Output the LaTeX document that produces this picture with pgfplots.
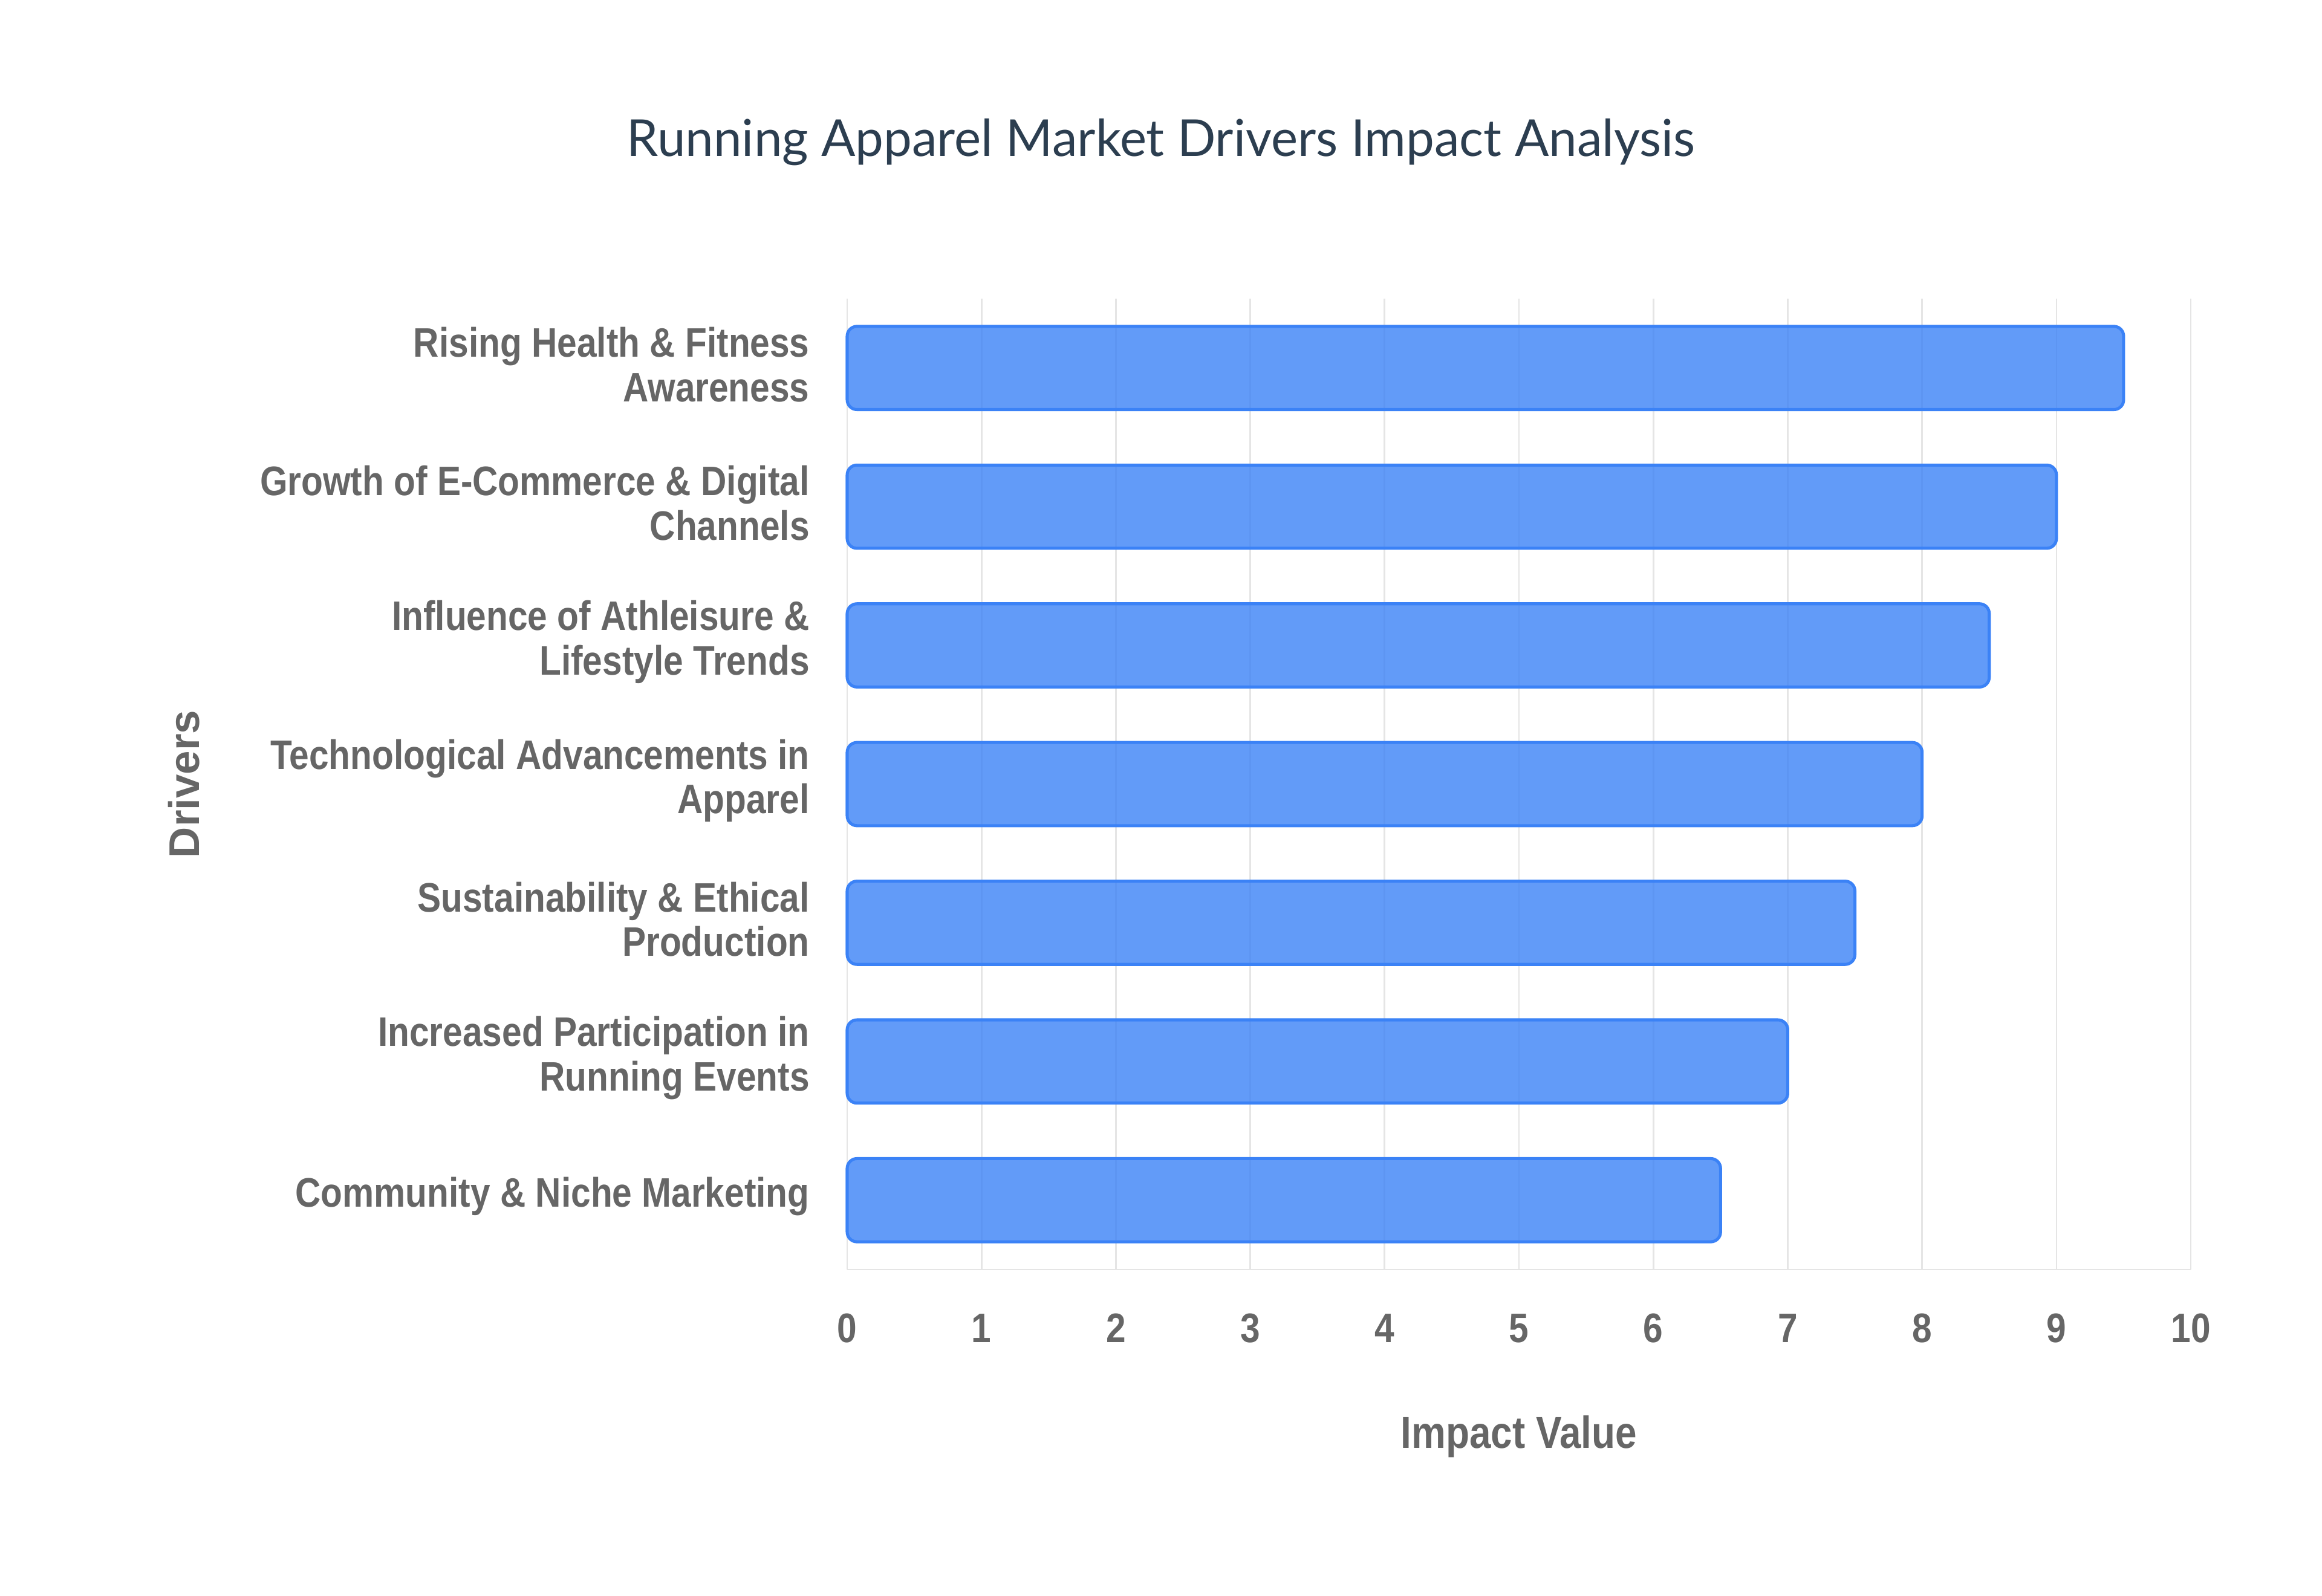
\documentclass[border=0pt]{standalone}
\usepackage{fontspec}
\setmainfont{Liberation Sans}
\newfontfamily\lblfont[FakeStretch=0.86]{Liberation Sans}
\newfontfamily\titlefont[FakeStretch=0.99]{Lato}
\usepackage{pgfplots}
\pgfplotsset{compat=1.18}
\definecolor{barcol}{RGB}{59,130,246}
\definecolor{tickgray}{RGB}{102,102,102}
\definecolor{gridgray}{RGB}{229,229,229}
\definecolor{titlecol}{RGB}{44,62,80}

\begin{document}
\begin{tikzpicture}
\useasboundingbox (0,0) rectangle (20cm,-13.75cm);
\node[font=\titlefont\fontsize{12.5}{15}\selectfont, text=titlecol, anchor=base, inner sep=0pt]
	at (10cm,-1.349cm) {Running Apparel Market Drivers Impact Analysis};
\begin{axis}[
	at={(7.297cm,-10.9375cm)}, anchor=south west,
	scale only axis,
	width=11.573cm, height=8.365cm,
	xbar,
	bar width=0.6,
	xmin=0, xmax=10,
	ymin=-0.5, ymax=6.5,
	xtick={0,...,10},
	ytick={0,...,6},
	yticklabels={
		Community \& Niche Marketing,
		Increased Participation in\\Running Events,
		Sustainability \& Ethical\\Production,
		Technological Advancements in\\Apparel,
		Influence of Athleisure \&\\Lifestyle Trends,
		Growth of E-Commerce \& Digital\\Channels,
		Rising Health \& Fitness\\Awareness
	},
	axis x line*=bottom,
	axis y line*=left,
	axis line style={draw=gridgray, line width=0.4pt, -},
	major tick length=0pt,
	xmajorgrids,
	grid style={draw=gridgray, line width=0.4pt},
	/pgf/number format/assume math mode=true,
	ticklabel style={font=\lblfont\bfseries\fontsize{10.1}{10.9}\selectfont, text=tickgray, inner sep=0pt},
	yticklabel style={align=right, anchor=east, xshift=-0.318cm, yshift=0.03cm},
	xticklabel style={anchor=north, yshift=-0.375cm},
	xlabel={Impact Value},
	ylabel={Drivers},
	xlabel style={font=\lblfont\bfseries\fontsize{11}{13}\selectfont, text=tickgray,
		at={(axis description cs:0.5,-0.172)}, anchor=center, inner sep=0pt},
	ylabel style={font=\bfseries\fontsize{10.5}{12}\selectfont, text=tickgray,
		at={(axis description cs:-0.4937,0.5)}, anchor=center, inner sep=0pt},
	clip=false,
]
\addplot[fill=barcol, fill opacity=0.8, draw=barcol, line width=0.75pt, rounded corners=2.4pt]
	coordinates {
	(6.5,0)
	(7.0,1)
	(7.5,2)
	(8.0,3)
	(8.5,4)
	(9.0,5)
	(9.5,6)
};
\end{axis}
\end{tikzpicture}
\end{document}
